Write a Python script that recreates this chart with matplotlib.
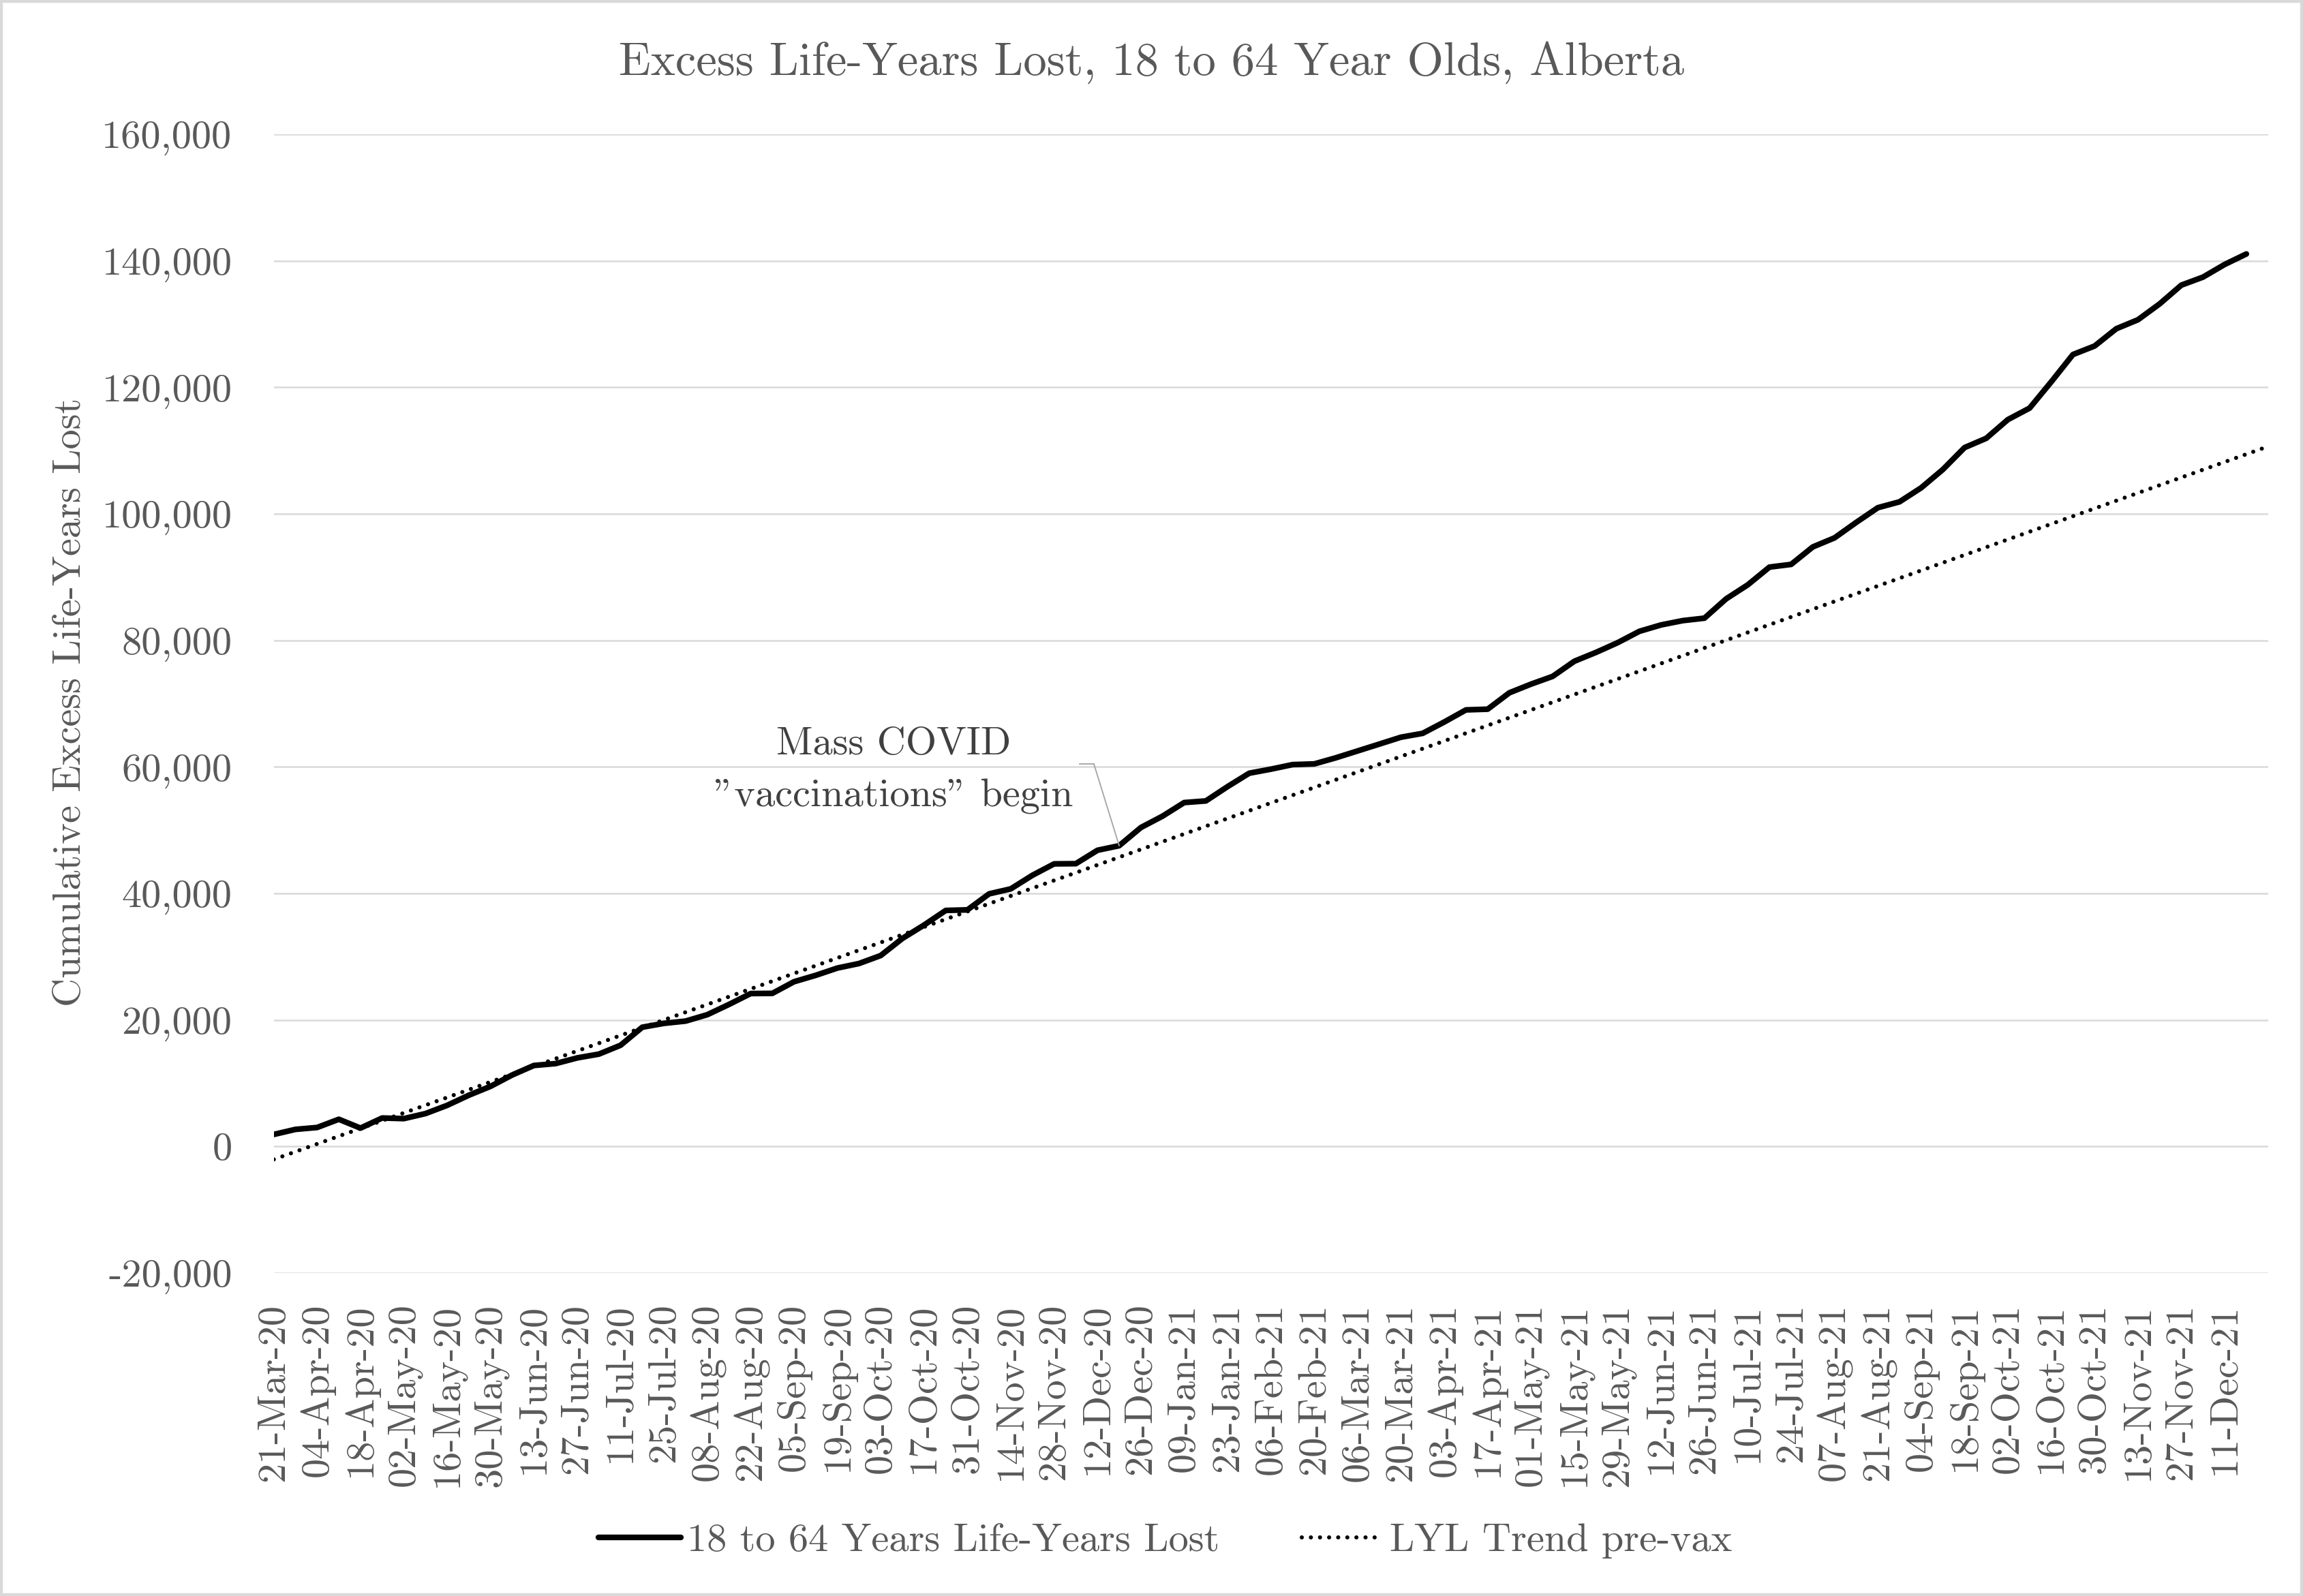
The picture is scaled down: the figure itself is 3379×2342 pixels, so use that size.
import pandas as pd
import matplotlib
matplotlib.use("Agg")
import matplotlib.pyplot as plt
from matplotlib.patches import Rectangle
from matplotlib.ticker import FuncFormatter

plt.rcParams['font.family'] = ['cmr10', 'DejaVu Serif']
plt.rcParams['axes.unicode_minus'] = False

# weekly categories, 21-Mar-20 onward (last slot has no label)
weeks = pd.date_range('2020-03-21', periods=93, freq='7D')

# cumulative excess life-years lost, 18 to 64 year olds
lyl_values = [
    1900, 2700, 3000, 4300, 2900, 4500, 4400, 5200, 6500, 8100,
    9500, 11300, 12800, 13100, 14000, 14600, 16000, 18850, 19460, 19820,
    20830, 22450, 24170, 24200, 26040, 27050, 28200, 28920, 30180, 32880,
    35000, 37310, 37400, 39930, 40720, 42870, 44670, 44700, 46820, 47540,
    50410, 52210, 54360, 54620, 56880, 59000, 59640, 60360, 60470, 61440,
    62520, 63600, 64690, 65300, 67100, 69010, 69120, 71710, 73080, 74310,
    76700, 78100, 79640, 81430, 82440, 83120, 83510, 86560, 88780, 91580,
    92010, 94770, 96200, 98640, 100970, 101900, 104120, 107010, 110470, 111940,
    114900, 116710, 120870, 125180, 126530, 129260, 130680, 133190, 136150, 137420,
    139420, 141080,
]

# linear pre-vax trend, end points
trend_weeks = [0, 92]
trend_values = [-2050, 110650]

vax_week = 39
y_ticks = list(range(-20000, 160001, 20000))
tick_idx = list(range(0, 91, 2))
tick_labels = [weeks[i].strftime('%d-%b-%y') for i in tick_idx]

grey = '#595959'

fig = plt.figure(figsize=(3379 / 300, 2342 / 300), dpi=300)
ax = fig.add_axes([0.11888, 0.20239, 0.86594, 0.71349])

ax.plot(range(len(lyl_values)), lyl_values, color='black', lw=2.0,
        solid_capstyle='round', solid_joinstyle='round',
        label='18 to 64 Years Life-Years Lost', zorder=3)
ax.plot(trend_weeks, trend_values, color='black', lw=1.45,
        linestyle=(0, (0.01, 2.2)), dash_capstyle='round',
        label='LYL Trend pre-vax', zorder=4)

ax.set_xlim(0, 92)
ax.set_ylim(-20000, 160000)
ax.set_yticks(y_ticks)
ax.yaxis.set_major_formatter(FuncFormatter(lambda v, p: f'{v:,.0f}'))
ax.set_xticks(tick_idx)
ax.set_xticklabels(tick_labels, rotation=90, ha='center', va='top')
ax.tick_params(axis='y', length=0, pad=14.7, labelsize=14, labelcolor=grey)
ax.tick_params(axis='x', length=0, pad=10.7, labelsize=14, labelcolor=grey)
ax.yaxis.grid(True, color='#D9D9D9', lw=0.6)
ax.set_axisbelow(True)
for s in ax.spines.values():
    s.set_visible(False)

# annotation for start of vaccinations
ax.plot([37.17, 37.83], [60500, 60500], color='#A6A6A6', lw=0.45, zorder=2)
ax.annotate('', xy=(vax_week, lyl_values[vax_week]), xytext=(37.83, 60500),
            arrowprops=dict(arrowstyle='-', color='#A6A6A6', lw=0.45,
                            shrinkA=0, shrinkB=0))
ax.text(28.6, 62020, 'Mass COVID', ha='center', va='baseline',
        fontsize=14, color='#404040')
ax.text(28.6, 53700, '"vaccinations" begin', ha='center', va='baseline',
        fontsize=14, color='#404040')

fig.text(0.5, 1 - 110 / 2342, 'Excess Life-Years Lost, 18 to 64 Year Olds, Alberta',
         ha='center', va='baseline', fontsize=16.5, color=grey)
fig.text(103 / 3379, 1 - 1030 / 2342, 'Cumulative Excess Life-Years Lost',
         rotation=90, ha='center', va='center', fontsize=14, color=grey)

leg = fig.legend(loc='center', bbox_to_anchor=(0.506, 1 - 2261 / 2342), ncol=2,
                 frameon=False, fontsize=14, handlelength=2.07,
                 handletextpad=0.15, columnspacing=2.07)
for t in leg.get_texts():
    t.set_color(grey)

fig.patches.append(Rectangle((0, 0), 1, 1, transform=fig.transFigure, fill=False,
                             edgecolor='#D9D9D9', lw=2))

fig.savefig('out.png', dpi=300)
